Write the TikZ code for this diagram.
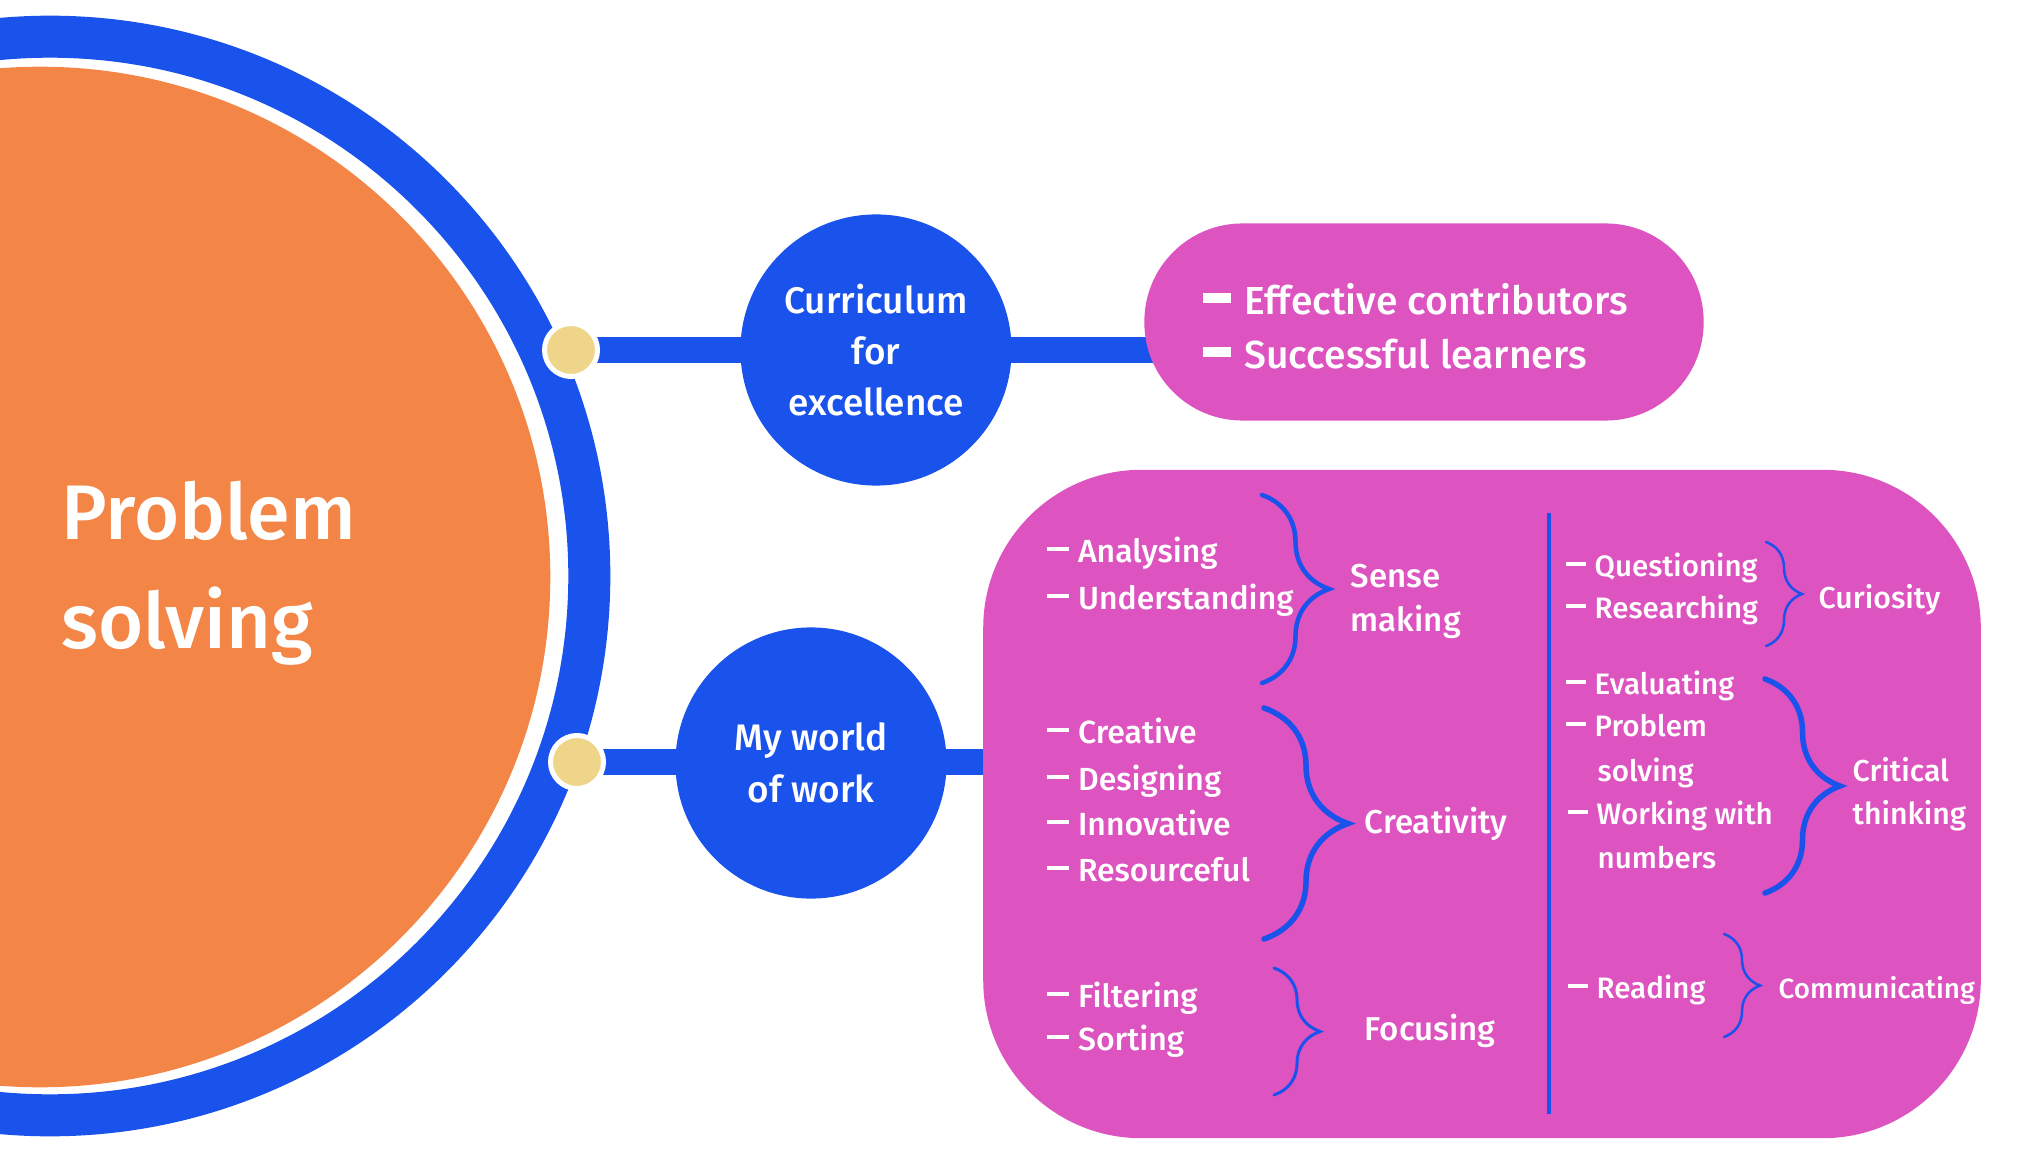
\documentclass[tikz,border=0pt]{standalone}
\usepackage{fontspec}
\setmainfont{Fira Sans Medium}
\usepackage{tikz}
\usetikzlibrary{backgrounds,decorations.pathreplacing}
\definecolor{hubblue}{HTML}{1A52EC}
\definecolor{coreorange}{HTML}{F38647}
\definecolor{panelpink}{HTML}{DD53C0}
\definecolor{dotyellow}{HTML}{EFD589}
\newcommand\itemdash{\rule[0.33em]{0.7em}{0.13em}\hspace{0.28em}}
\newcommand\bigdash{\rule[0.32em]{0.72em}{0.25em}\hspace{0.35em}}
\tikzset{
  hubcircle/.style={circle, fill=hubblue, text=white, align=center, minimum size=2.71cm, inner sep=0pt, font=\fontsize{10.5}{14.6}\selectfont},
  joindot/.style={circle, fill=dotyellow, draw=white, line width=0.05cm, minimum size=0.53cm, inner sep=0pt},
  panelbox/.style={rectangle, fill=panelpink, inner sep=0pt},
  itemtext/.style={anchor=base west, text=white, inner sep=0pt, font=\fontsize{9.1}{11}\selectfont},
  subitemtext/.style={itemtext, font=\fontsize{8.4}{10}\selectfont},
  grouptext/.style={itemtext, font=\fontsize{9.4}{11}\selectfont},
  smallgroup/.style={itemtext, font=\fontsize{8.6}{10}\selectfont},
  goaltext/.style={itemtext, font=\fontsize{11.1}{13}\selectfont},
  titletext/.style={itemtext, font=\fontsize{22}{27}\selectfont},
  hublink/.style={draw=hubblue, line width=0.25cm},
  bracemark/.style={draw=hubblue, line cap=round, decorate, decoration={brace, amplitude=#1}}
}

\begin{document}
\begin{tikzpicture}[x=0.01cm, y=-0.01cm]
  \useasboundingbox (0,0) rectangle (2028,1152);
  \draw[hubblue, line width=0.42cm] (50,576) circle[radius=5.39cm];
  \node[circle, fill=coreorange, minimum size=10.2cm, inner sep=0pt] (core) at (40,577) {};
  \node[titletext] (title1) at (61,539) {Problem};
  \node[titletext] (title2) at (61,648) {solving};

  \node[joindot] (dotA) at (571,350) {};
  \node[joindot] (dotB) at (577,762) {};
  \node[hubcircle] (cfe) at (876,350) {Curriculum\\for\\excellence};
  \node[hubcircle] (mwow) at (811,763) {My world\\of work};

  \node[panelbox, minimum width=5.59cm, minimum height=1.97cm, rounded corners=0.98cm] (capac) at (1424,322) {};
  \node[panelbox, minimum width=9.97cm, minimum height=6.68cm, rounded corners=1.58cm] (skills) at (1482,804) {};

  \begin{scope}[on background layer]
    \draw[hublink] (dotA.center) -- (capac.center |- dotA.center);
    \draw[hublink] (dotB.center) -- (skills.center |- dotB.center);
  \end{scope}

  \node[goaltext] (goal1) at (1202,315) {\bigdash Effective contributors};
  \node[goaltext] (goal2) at (1202,369) {\bigdash Successful learners};

  \draw[hubblue, line width=0.04cm] (1549,513) -- (1549,1114);

  \foreach \word/\yy [count=\i] in {Analysing/562, Understanding/609}
    \node[itemtext] (sense\i) at (1046,\yy) {\itemdash\word};
  \foreach \word/\yy [count=\i] in {Creative/743, Designing/790, Innovative/835, Resourceful/881}
    \node[itemtext] (creat\i) at (1046,\yy) {\itemdash\word};
  \foreach \word/\yy [count=\i] in {Filtering/1007, Sorting/1050}
    \node[itemtext] (focus\i) at (1046,\yy) {\itemdash\word};

  \foreach \word/\yy [count=\i] in {Questioning/576, Researching/618}
    \node[subitemtext] (curio\i) at (1565,\yy) {\itemdash\word};
  \node[subitemtext] (crit1) at (1565,694) {\itemdash Evaluating};
  \node[subitemtext] (crit2) at (1565,736) {\itemdash Problem};
  \node[subitemtext] (crit2b) at (1597,781) {solving};
  \node[subitemtext] (crit3) at (1567,824) {\itemdash Working with};
  \node[subitemtext] (crit3b) at (1597,868) {numbers};
  \node[subitemtext] (comm1) at (1567,998) {\itemdash Reading};

  \draw[bracemark=0.67cm, line width=0.045cm] (1262,495) -- (1262,683);
  \draw[bracemark=0.84cm, line width=0.055cm] (1264,708) -- (1264,939);
  \draw[bracemark=0.46cm, line width=0.03cm] (1274,968) -- (1274,1095);
  \draw[bracemark=0.36cm, line width=0.025cm] (1766,542) -- (1766,646);
  \draw[bracemark=0.75cm, line width=0.055cm] (1765,679) -- (1765,893);
  \draw[bracemark=0.36cm, line width=0.025cm] (1724,934) -- (1724,1037);

  \node[grouptext] (sensea) at (1350,587) {Sense};
  \node[grouptext] (senseb) at (1350,631) {making};
  \node[grouptext] (creatl) at (1364,833) {Creativity};
  \node[grouptext] (focusl) at (1364,1040) {Focusing};
  \node[smallgroup] (curiol) at (1818,608) {Curiosity};
  \node[smallgroup] (crita) at (1852,781) {Critical};
  \node[smallgroup] (critb) at (1852,824) {thinking};
  \node[smallgroup, font=\fontsize{7.9}{9}\selectfont] (comml) at (1778,998) {Communicating};
\end{tikzpicture}
\end{document}
